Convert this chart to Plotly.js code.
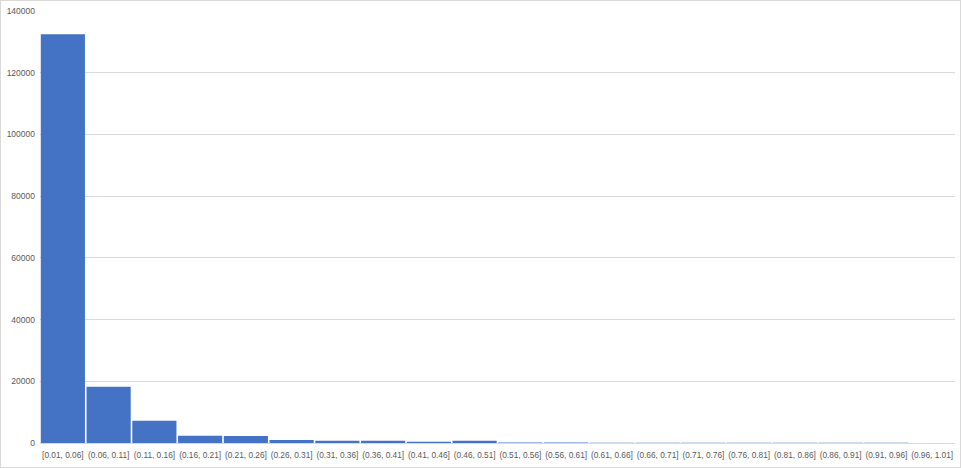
<!DOCTYPE html>
<html>
<head>
<meta charset="utf-8">
<script src="https://cdn.plot.ly/plotly-3.0.1.min.js"></script>
<style>
html,body{margin:0;padding:0;background:#fff;}
#chart{width:961px;height:468px;}
#frame{position:absolute;left:0;top:0;width:961px;height:468px;box-sizing:border-box;border:1px solid #d9d9d9;pointer-events:none;}
</style>
</head>
<body>
<div id="chart"></div>
<div id="frame"></div>
<script>
const binLabels = [
  "[0.01, 0.06]", "(0.06, 0.11]", "(0.11, 0.16]", "(0.16, 0.21]", "(0.21, 0.26]",
  "(0.26, 0.31]", "(0.31, 0.36]", "(0.36, 0.41]", "(0.41, 0.46]", "(0.46, 0.51]",
  "(0.51, 0.56]", "(0.56, 0.61]", "(0.61, 0.66]", "(0.66, 0.71]", "(0.71, 0.76]",
  "(0.76, 0.81]", "(0.81, 0.86]", "(0.86, 0.91]", "(0.91, 0.96]", "(0.96, 1.01]"
];
const counts = [
  132500, 18200, 7200, 2350, 2300,
  1000, 700, 700, 380, 700,
  150, 130, 110, 100, 90,
  80, 70, 60, 50, 0
];
const yTicks = [0, 20000, 40000, 60000, 80000, 100000, 120000, 140000];

const trace = {
  type: "bar",
  x: binLabels,
  y: counts,
  marker: {color: "#4472C4", line: {color: "#ffffff", width: 0}},
  hoverinfo: "x+y"
};

const layout = {
  width: 961,
  height: 468,
  margin: {l: 40, r: 6, t: 11, b: 25},
  paper_bgcolor: "#ffffff",
  plot_bgcolor: "#ffffff",
  bargap: 0.035,
  showlegend: false,
  font: {family: "Liberation Sans, Arial, sans-serif", size: 8.5, color: "#595959"},
  xaxis: {
    type: "category",
    showgrid: false,
    showline: true,
    linecolor: "#d9d9d9",
    linewidth: 1,
    ticks: "",
    ticklabelstandoff: 4,
    tickfont: {size: 8.3, color: "#595959"},
    tickangle: 0,
    automargin: false
  },
  yaxis: {
    range: [0, 140000],
    tickvals: yTicks,
    ticktext: yTicks.map(String),
    showgrid: true,
    gridcolor: "#d9d9d9",
    gridwidth: 1,
    zeroline: false,
    showline: false,
    ticks: "",
    ticklabelstandoff: 4,
    tickfont: {size: 8.5, color: "#595959"},
    automargin: false
  }
};

Plotly.newPlot("chart", [trace], layout, {staticPlot: true, displayModeBar: false});
</script>
</body>
</html>
